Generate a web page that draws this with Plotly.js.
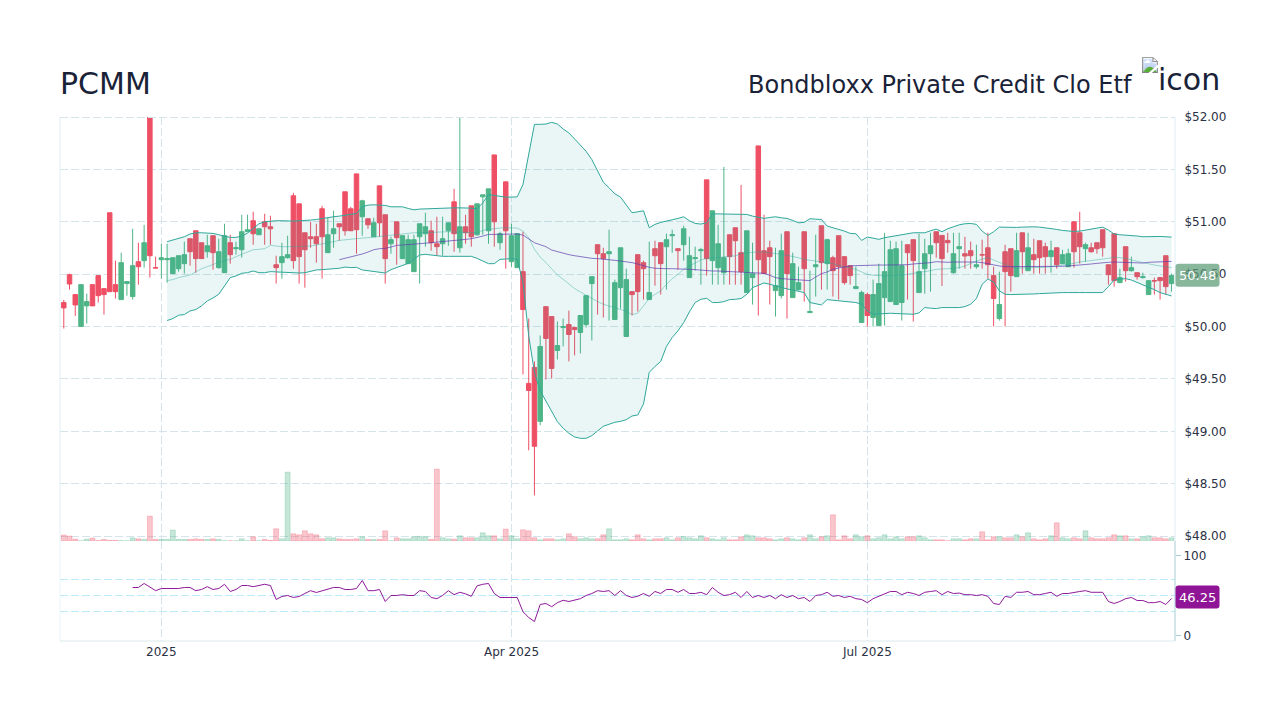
<!DOCTYPE html>
<html><head><meta charset="utf-8">
<script src="https://cdn.plot.ly/plotly-3.0.1.min.js"></script>
<style>
html,body{margin:0;padding:0;background:#fff;width:1280px;height:720px;overflow:hidden}
#c{position:absolute;left:0;top:0;width:1280px;height:720px}
#ic{position:absolute;left:1142px;top:57px;font:30px/46px "DejaVu Sans";color:#1a2238}
</style></head><body>
<div id="c"></div>
<img id="ic" src="icon-missing.png" alt="icon">
<script>
const ticker="PCMM", fundName="Bondbloxx Private Credit Clo Etf";
const xTickIdx=[17,78,140], xTickText=["2025","Apr 2025","Jul 2025"];
const priceTicks=[48,48.5,49,49.5,50,50.5,51,51.5,52];
const priceTickText=["$48.00","$48.50","$49.00","$49.50","$50.00","$50.50","$51.00","$51.50","$52.00"];
const lastPrice=50.48, lastRsi=46.25;
const open=[50.229,50.495,50.305,50.00,50.197,50.40,50.486,50.362,51.086,50.40,
50.257,50.41,50.286,50.619,50.629,52.3,50.562,50.638,50.638,50.505,
50.552,50.60,50.838,50.914,50.80,50.714,50.867,50.562,50.514,50.80,
50.743,50.733,50.905,51.01,50.876,51.0,50.952,50.59,50.61,50.657,
51.248,51.171,50.895,50.857,50.857,51.124,50.705,50.886,50.981,51.286,
51.124,51.457,51.048,51.029,50.857,51.343,51.067,50.79,51.0,50.648,
50.60,50.524,50.857,50.886,50.914,50.79,50.79,50.914,51.19,50.752,
50.952,51.152,50.876,51.238,50.914,51.638,50.80,51.381,50.619,50.562,
50.524,49.457,49.61,49.095,50.19,50.095,49.771,49.99,50.019,49.99,
49.943,50.019,50.41,50.781,50.695,50.695,50.067,50.371,49.905,50.333,
50.686,50.61,50.257,50.743,50.80,50.762,50.867,50.743,50.781,50.467,
50.648,50.724,51.4,50.629,50.562,50.514,50.876,50.943,50.705,50.324,
50.467,51.724,50.724,50.752,50.343,50.295,50.905,50.276,50.352,50.905,
50.133,50.571,50.962,50.60,50.657,50.867,50.667,50.581,50.362,50.038,
50.305,50.086,50.01,50.276,50.238,50.21,50.229,50.781,50.829,50.324,
50.552,50.695,50.905,50.87,50.822,50.514,50.743,50.695,50.724,50.571,
50.686,50.752,50.486,50.076,50.714,50.743,50.476,50.895,50.533,50.686,
50.819,50.762,50.667,50.752,50.60,50.571,51.0,50.895,50.743,50.752,
50.80,50.924,50.59,50.886,50.419,50.762,50.533,50.514,50.467,50.305,50.438,50.467,50.676,50.41];
const high=[50.254,50.505,50.305,50.40,50.314,50.40,50.486,50.362,51.086,50.629,
50.705,50.429,50.933,50.80,50.971,52.3,50.667,50.79,50.79,50.657,
50.676,50.81,50.838,50.914,50.80,50.876,50.867,50.838,50.981,50.876,
50.81,51.067,51.067,51.095,50.933,51.076,51.057,50.676,50.80,50.867,
51.276,51.171,50.895,51.0,50.981,51.152,51.038,51.105,50.981,51.286,
51.143,51.457,51.21,51.029,51.038,51.343,51.067,50.857,51.0,50.867,
50.876,50.876,50.981,51.086,51.01,51.048,51.048,50.99,51.314,52.2,
51.067,51.152,51.171,51.257,51.314,51.638,50.905,51.381,50.981,50.886,
50.905,50.076,49.667,49.914,50.19,50.095,50.048,50.076,50.152,50.0,
50.105,50.295,50.476,50.781,50.752,50.924,50.448,50.752,50.552,50.333,
50.686,50.629,50.81,50.819,50.80,50.886,50.924,50.743,50.962,50.857,
50.762,50.752,51.4,51.105,50.971,51.524,50.876,50.943,51.352,50.914,
50.80,51.724,51.067,50.819,50.752,50.886,50.905,50.705,50.571,50.905,
50.533,50.876,50.962,50.838,50.676,50.867,50.667,50.581,50.571,50.343,
50.324,50.448,50.60,50.895,50.819,50.81,50.819,50.781,50.829,50.886,
50.838,50.895,50.905,50.87,50.895,50.895,50.895,50.857,50.81,50.781,
50.829,50.895,50.571,50.524,50.781,50.743,50.895,50.895,50.895,50.838,
50.819,50.80,50.819,50.752,50.733,50.743,51.0,51.095,50.80,50.80,
50.80,50.924,50.59,50.886,50.552,50.762,50.667,50.514,50.514,50.438,50.467,50.467,50.676,50.505];
const low=[49.981,50.352,50.102,50.00,50.029,50.197,50.229,50.114,50.333,50.267,
50.257,50.295,50.257,50.40,50.562,50.467,50.559,50.457,50.419,50.505,
50.524,50.505,50.581,50.514,50.648,50.657,50.543,50.552,50.514,50.60,
50.686,50.657,50.905,50.781,50.876,50.781,50.781,50.41,50.457,50.648,
50.552,50.41,50.371,50.752,50.61,50.457,50.705,50.752,50.819,50.867,
50.914,50.695,50.867,50.933,50.857,50.857,50.41,50.695,50.59,50.648,
50.60,50.524,50.41,50.762,50.724,50.676,50.676,50.771,50.714,50.705,
50.79,50.762,50.867,50.876,50.79,50.762,50.733,50.552,50.571,50.562,
49.543,48.819,48.387,49.057,49.495,49.505,49.686,49.81,49.667,49.724,
49.743,49.99,49.867,50.114,50.086,50.057,50.067,50.171,49.905,50.105,
50.143,50.257,50.257,50.39,50.305,50.352,50.705,50.543,50.629,50.467,
50.533,50.40,50.486,50.40,50.40,50.40,50.40,50.40,50.40,50.324,
50.21,50.105,50.505,50.21,50.095,50.267,50.076,50.276,50.343,50.238,
50.133,50.286,50.352,50.352,50.286,50.257,50.40,50.40,50.362,50.038,
50.0,50.0,50.01,50.01,50.238,50.21,50.057,50.257,50.048,50.324,
50.314,50.333,50.657,50.387,50.705,50.505,50.552,50.552,50.552,50.552,
50.552,50.457,50.0,50.057,50.0,50.333,50.476,50.505,50.533,50.505,
50.505,50.505,50.514,50.552,50.60,50.571,50.562,50.60,50.619,50.705,
50.695,50.667,50.40,50.381,50.419,50.429,50.524,50.448,50.457,50.305,50.305,50.257,50.305,50.333];
const close=[50.178,50.406,50.206,50.40,50.238,50.197,50.295,50.305,50.333,50.333,
50.61,50.429,50.581,50.571,50.80,50.676,50.559,50.657,50.648,50.657,
50.676,50.686,50.714,50.648,50.648,50.771,50.705,50.714,50.867,50.686,
50.752,50.905,50.924,50.886,50.933,50.952,50.933,50.562,50.667,50.686,
50.629,50.667,50.733,50.838,50.79,50.857,50.876,50.933,50.952,50.914,
50.914,50.924,51.2,50.971,50.99,50.99,50.648,50.829,50.848,50.867,
50.829,50.829,50.981,50.952,50.80,50.762,50.838,50.99,50.886,50.952,
50.895,50.857,51.171,51.257,51.314,51.0,50.886,50.914,50.867,50.886,
50.162,49.39,48.857,49.81,49.886,49.6,49.819,50.0,49.924,49.971,
50.105,50.295,50.476,50.695,50.648,50.714,50.419,50.752,50.448,50.305,
50.333,50.552,50.324,50.676,50.60,50.829,50.876,50.724,50.933,50.676,
50.657,50.733,50.648,51.105,50.79,50.657,50.667,50.819,50.524,50.914,
50.505,50.638,50.505,50.667,50.39,50.724,50.505,50.60,50.419,50.552,
50.143,50.59,50.61,50.829,50.533,50.571,50.419,50.486,50.381,50.324,
50.105,50.305,50.41,50.524,50.733,50.743,50.581,50.705,50.629,50.524,
50.695,50.771,50.80,50.648,50.80,50.695,50.762,50.673,50.676,50.59,
50.683,50.59,50.267,50.21,50.524,50.486,50.724,50.714,50.752,50.638,
50.657,50.667,50.724,50.59,50.686,50.695,50.714,50.762,50.781,50.714,
50.743,50.752,50.495,50.438,50.467,50.533,50.562,50.476,50.476,50.438,50.435,50.438,50.381,50.486];
const volumeK=[12,10,4,0.6,4,6,1,3.4,1.4,1.4,
.8,.6,6.6,4.6,3.4,50,3.4,3.4,3.4,22,
3.4,3.4,3.4,4.6,3.4,3.4,4.6,3.4,.6,.6,
.6,4.6,.6,8.6,.6,3.4,1.4,24.6,4.6,138,
14.6,12.6,20.6,14.6,12.6,4.6,6.6,6.6,4.6,3.4,
3.4,4.6,8.6,3.4,3.4,3.4,20.6,.6,6.6,4.6,
4.6,8.6,9.4,8.6,3.4,144,6.6,4.6,4,10.6,
6.6,6.6,6.6,16.6,10.6,10.6,4.6,24,10.6,4.6,
22.6,20.6,6.6,2.6,4.6,4.6,2.6,4.6,14.6,8.6,
4.6,6.6,4.6,4.6,12.6,24.6,2.6,2.6,4.6,2.6,
12.6,4.6,2.6,4.6,4.6,6.6,2.6,6.6,9.4,6.6,
4.6,10.6,6.6,4.6,2.6,6.6,2.6,2.6,8.6,12.6,
10.6,6.6,6.6,4.6,2.6,4.6,6.6,4.6,2.6,6.6,
12.6,4.6,8.6,10.6,52.6,2.6,10.6,4.6,12.6,8.6,
10.6,4.6,6.6,12.6,4.6,8.6,4.6,8.6,8.6,10.6,
6.6,2.6,2.6,2.6,.6,4.6,4.6,2.6,4.6,4.6,
18.6,2.6,8.6,8.6,6.6,6.6,12.6,8.6,16.6,4.6,
2.6,4.6,10.6,36.6,6.6,4.6,6.6,4.6,20.6,6.6,
4.6,4.6,6.6,12.6,10.6,10.6,4.6,4.6,8.6,10.6,6.6,6.6,4.6,6.6];
const bbStart=18;
const bbUpper=[50.81,50.825,50.838,50.857,50.883,50.895,50.895,50.895,50.889,50.876,50.86,50.851,50.851,50.863,50.892,50.933,50.981,51.0,51.006,51.01,51.01,51.006,51.006,51.01,51.01,
51.016,51.022,51.032,51.041,51.048,51.054,51.06,51.067,51.079,51.143,51.159,51.162,51.162,51.156,51.143,51.143,51.143,51.127,51.114,51.121,51.124,51.124,51.127,51.127,51.13,51.133,51.133,51.133,51.13,51.124,51.181,51.26,51.25,51.238,51.235,51.235,51.238,
51.356,51.657,51.93,51.93,51.933,51.949,51.933,51.886,51.848,51.79,51.73,51.673,51.594,51.492,51.378,51.324,51.267,51.235,51.165,51.086,51.095,51.105,50.943,50.975,50.994,51.003,51.019,51.032,51.048,51.01,50.984,50.978,50.99,51.076,51.076,51.073,51.073,51.073,51.073,51.07,
51.054,51.041,51.032,51.041,51.048,51.038,51.032,51.013,50.99,50.994,51.029,51.025,51.022,50.959,50.943,50.933,50.911,50.889,50.886,50.822,50.854,50.844,50.832,50.848,50.857,50.867,50.876,50.886,50.895,50.895,50.895,50.914,50.93,
50.905,50.933,50.952,50.971,50.981,50.984,50.975,50.911,50.87,50.905,50.949,50.946,50.943,50.946,50.949,50.952,50.952,50.949,50.943,50.933,50.927,50.917,50.911,50.908,50.911,50.921,50.933,50.943,50.949,50.921,50.883,50.876,50.873,50.873,50.864,50.857,50.86,50.864,50.86,50.857,50.854];
const bbMid=[50.438,50.448,50.467,50.479,50.492,50.521,50.552,50.571,50.594,50.613,50.629,50.641,50.667,50.689,50.711,50.733,50.737,50.743,50.775,50.768,50.762,50.762,50.762,50.762,50.762,
50.768,50.778,50.787,50.8,50.81,50.822,50.829,50.832,50.838,50.844,50.848,50.854,50.86,50.87,50.876,50.883,50.889,50.892,50.895,50.895,50.898,50.902,50.905,50.905,50.905,50.902,50.898,50.898,50.895,50.895,50.917,50.927,50.937,50.94,50.943,50.943,50.94,
50.911,50.848,50.737,50.663,50.61,50.552,50.492,50.451,50.403,50.362,50.33,50.298,50.267,50.238,50.213,50.197,50.175,50.162,50.146,50.114,50.127,50.197,50.27,50.308,50.34,50.403,50.457,50.498,50.546,50.578,50.61,50.635,50.648,50.657,50.657,50.667,50.673,50.673,50.698,50.705,
50.711,50.711,50.711,50.705,50.695,50.689,50.679,50.67,50.657,50.641,50.632,50.625,50.616,50.61,50.6,50.584,50.571,50.559,50.546,50.521,50.498,50.489,50.483,50.483,50.486,50.489,50.492,50.498,50.508,50.514,50.524,50.533,50.546,
50.546,50.552,50.556,50.562,50.578,50.603,50.625,50.644,50.657,50.635,50.61,50.59,50.571,50.556,50.559,50.559,50.562,50.562,50.565,50.571,50.578,50.584,50.59,50.603,50.616,50.622,50.629,50.635,50.641,50.651,50.663,50.657,50.651,50.635,50.622,50.61,50.597,50.587,50.578,50.568,50.562];
const bbLower=[50.057,50.076,50.108,50.114,50.149,50.162,50.197,50.244,50.273,50.308,50.387,50.467,50.483,50.508,50.514,50.53,50.514,50.514,50.524,50.521,50.524,50.521,50.514,50.511,50.514,
50.527,50.54,50.543,50.546,50.552,50.556,50.568,50.562,50.565,50.54,50.533,50.527,50.521,50.511,50.543,50.565,50.584,50.603,50.641,50.683,50.689,50.683,50.673,50.67,50.67,50.67,50.67,50.67,50.67,50.651,50.625,50.6,50.6,50.641,50.644,50.648,50.641,
50.419,49.911,49.562,49.387,49.292,49.197,49.092,49.029,48.981,48.946,48.933,48.933,48.959,49.003,49.048,49.067,49.086,49.095,49.111,49.146,49.156,49.26,49.562,49.619,49.667,49.81,49.895,49.959,50.038,50.14,50.229,50.26,50.27,50.229,50.229,50.238,50.257,50.26,50.267,50.308,
50.371,50.394,50.416,50.403,50.387,50.371,50.359,50.349,50.337,50.324,50.229,50.216,50.206,50.257,50.251,50.244,50.241,50.235,50.229,50.213,50.149,50.117,50.121,50.127,50.127,50.124,50.124,50.124,50.117,50.13,50.181,50.175,50.171,
50.181,50.181,50.181,50.181,50.19,50.213,50.267,50.403,50.454,50.425,50.34,50.308,50.305,50.305,50.305,50.308,50.311,50.314,50.317,50.324,50.321,50.324,50.324,50.321,50.324,50.324,50.324,50.324,50.324,50.381,50.444,50.451,50.457,50.444,50.422,50.403,50.378,50.352,50.324,50.308,50.292];
const maStart=48;
const ma50=[50.638,50.651,50.663,50.676,50.692,50.711,50.733,50.743,50.746,50.759,50.775,50.778,50.781,50.784,50.794,50.797,50.8,50.806,50.81,50.816,50.822,50.825,50.832,50.838,50.848,50.863,50.879,50.879,50.883,50.883,50.883,50.883,
50.873,50.838,50.8,50.781,50.762,50.73,50.714,50.698,50.686,50.676,50.667,50.657,50.651,50.648,50.644,50.641,50.632,50.625,50.619,50.61,50.597,50.578,50.565,50.556,50.552,50.552,50.552,50.552,50.549,50.546,50.543,50.537,50.533,50.53,50.53,50.527,50.527,50.524,50.524,50.521,
50.517,50.511,50.508,50.489,50.467,50.457,50.454,50.451,50.444,50.441,50.438,50.473,50.505,50.521,50.546,50.559,50.571,50.578,50.581,50.584,50.587,50.587,50.587,50.587,50.587,50.587,50.587,50.59,50.597,50.6,50.603,50.61,50.619,
50.613,50.613,50.616,50.616,50.619,50.619,50.616,50.61,50.597,50.587,50.578,50.571,50.571,50.571,50.568,50.568,50.568,50.568,50.571,50.571,50.575,50.575,50.578,50.581,50.59,50.594,50.597,50.603,50.61,50.613,50.616,50.613,50.61,50.606,50.606,50.606,50.613,50.616,50.619,50.622,50.622];
const rsiStart=12;
const rsi14=[60,60,65,60,56,58.75,58.75,58.75,58.75,60,60,56,57.5,61,57.5,58.75,64,55,57.5,62.5,62.5,61,62.5,64,62.5,45,48.75,50,47.5,48.75,52.5,56,53.75,56,57.5,60,60,57.5,57.5,58.75,68.75,56,56,57.5,42.5,50,50,51,50,50,56,55,47.5,46,50,56,51,
54,52,49,62,64,65,52.5,47.5,47.5,47.5,47.5,29.6,22.5,17.5,38.75,40,36,41,44,42.5,44,46,50,52.5,56,55,56,50,56,50,47.5,49,52.5,49,55,52.5,57.5,57.5,54,57.5,52.5,52.5,54,51,60,54,50,51,54,47.5,55,47.5,50,47.5,50,46,51,47.5,50,46,47.5,42.5,50,51,54,49,50,47.5,49,
46,45,41,46,49,51,55,55,51,54,52.5,50,54,55,56,51,55,52.5,53,51,51,50,51,49,40,38.75,49,47.5,54,54,55,51,51,52.5,54,49,52.5,52.5,54,55,56,54,54,54,42.5,40,42.5,46,47.5,43.75,43.75,41,41,42.5,38.75,46.25];
const rsiLevels=[30,50,70];

const x=close.map((_,i)=>i);
const pad=(s,a)=>Array(s).fill(null).concat(a);
const GREEN='#4fb587',RED='#ef4f64',INK='#1a2238',TXT='#2b3245',GRID='#d5e4ea';
const XR=[-0.66,193.6];
const up=close.map((c,i)=>c>=open[i]);
const traces=[
 {type:'bar',x,y:volumeK,yaxis:'y3',xaxis:'x',hoverinfo:'skip',
  marker:{color:up.map(u=>u?'rgba(79,181,135,.32)':'rgba(239,79,100,.32)'),
          line:{color:up.map(u=>u?'rgba(79,181,135,.28)':'rgba(239,79,100,.28)'),width:1}}},
 {type:'candlestick',x,open,high,low,close,xaxis:'x',yaxis:'y',whiskerwidth:0,
  increasing:{line:{color:GREEN,width:1},fillcolor:GREEN},
  decreasing:{line:{color:RED,width:1},fillcolor:RED}},
 {type:'scatter',mode:'lines',x,y:pad(bbStart,bbUpper),line:{color:'#2fa89b',width:1},yaxis:'y',xaxis:'x'},
 {type:'scatter',mode:'lines',x,y:pad(bbStart,bbLower),line:{color:'#2fa89b',width:1},fill:'tonexty',fillcolor:'rgba(38,166,154,.1)',yaxis:'y',xaxis:'x'},
 {type:'scatter',mode:'lines',x,y:pad(bbStart,bbMid),line:{color:'rgba(38,166,154,.42)',width:1},yaxis:'y',xaxis:'x'},
 {type:'scatter',mode:'lines',x,y:pad(maStart,ma50),line:{color:'rgba(95,60,175,.7)',width:1},yaxis:'y',xaxis:'x'},
 {type:'scatter',mode:'lines',x,y:pad(rsiStart,rsi14),line:{color:'#8e1a9a',width:1},yaxis:'y4',xaxis:'x'}
];
const PL=60,PR=1175,PT=117,PB=641.5,SPLIT=541.5;
const px=X=>(X-PL)/(PR-PL), py=Y=>(PB-Y)/(PB-PT);
function rr(x0,y0,x1,y1,r,fill){
 const kx=r/(PR-PL),ky=r/(PB-PT),a=px(x0),b=px(x1),t=py(y0),u=py(y1);
 return {type:'path',xref:'paper',yref:'paper',layer:'above',line:{width:0},fillcolor:fill,
  path:`M${a+kx},${t} L${b-kx},${t} Q${b},${t} ${b},${t-ky} L${b},${u+ky} Q${b},${u} ${b-kx},${u} L${a+kx},${u} Q${a},${u} ${a},${u+ky} L${a},${t-ky} Q${a},${t} ${a+kx},${t} Z`};
}
const seg=(x0,y0,x1,y1,c,d)=>({type:'line',xref:'paper',yref:'paper',x0:px(x0),y0:py(y0),x1:px(x1),y1:py(y1),line:{color:c,width:1,dash:d||'solid'},layer:'above'});
const shapes=[
 seg(PL,PT,PL,SPLIT,'#e3eef3'),
 seg(PL,SPLIT,PL,PB,'#e8f2f6'),
 seg(PR,PT,PR,SPLIT,'#e0eef4'),
 seg(PR,SPLIT,PR,PB,'#a9cdd6'),
 seg(PL,PB,PR,PB,'#dceaee'),
 seg(PL,PT+0.5,PR,PT+0.5,GRID,'8px,3px'),
 ...rsiLevels.map(v=>({type:'line',xref:'x',yref:'y4',x0:XR[0],x1:XR[1],y0:v,y1:v,layer:'below',line:{color:'#bdeafb',width:1,dash:'8px,3px'}})),
 rr(1175.5,264,1219.5,287,3,'rgba(92,155,118,.72)'),
 rr(1175.5,586,1219.5,609,3,'#8f1596')
];
const ann=(X,Y,t,size,color,xa)=>({xref:'paper',yref:'paper',x:px(X),y:py(Y),text:t,showarrow:false,xanchor:xa,yanchor:'middle',font:{family:'DejaVu Sans',size,color},borderpad:0});
const layout={
 width:1280,height:720,paper_bgcolor:'#fff',plot_bgcolor:'#fff',showlegend:false,
 font:{family:'DejaVu Sans',size:12,color:TXT},
 margin:{l:PL,r:1280-PR,t:PT,b:720-PB,pad:0},
 bargap:0.15,boxgap:0.22,boxgroupgap:0,hovermode:false,dragmode:false,
 xaxis:{anchor:'y4',range:XR,rangeslider:{visible:false},tickmode:'array',tickvals:xTickIdx,ticktext:xTickText,
  showgrid:true,gridcolor:GRID,griddash:'8px,3px',gridwidth:1,zeroline:false,showline:false,ticks:'',tickfont:{size:12,color:TXT},ticklabelstandoff:2},
 yaxis:{domain:[(PB-SPLIT)/(PB-PT),1],side:'right',anchor:'x',range:[47.952,52],tickmode:'array',tickvals:priceTicks,ticktext:priceTickText,
  showgrid:true,gridcolor:GRID,griddash:'8px,3px',gridwidth:1,zeroline:false,showline:false,ticks:'outside',ticklen:6,tickcolor:'rgba(0,0,0,0)',tickfont:{size:12,color:TXT}},
 yaxis3:{domain:[(PB-SPLIT)/(PB-PT),1],overlaying:'y',anchor:'x',range:[0,849],visible:false,fixedrange:true},
 yaxis4:{domain:[0,(PB-SPLIT)/(PB-PT)],side:'right',anchor:'x',range:[-6.9,118],tickmode:'array',tickvals:[0,100],ticktext:['0','100'],
  showgrid:false,zeroline:false,showline:false,ticks:'outside',ticklen:5,tickcolor:'#a9cdd6',tickfont:{size:12,color:TXT}},
 shapes,
 annotations:[
  ann(59,83,ticker,30,INK,'left'),
  ann(1133,84.5,fundName,24,INK,'right'),
  ann(1197.5,275.5,lastPrice.toFixed(2),13,'#fff','center'),
  ann(1197.5,598,lastRsi.toFixed(2),13,'#fff','center')
 ]
};
Plotly.newPlot('c',traces,layout,{displayModeBar:false,staticPlot:true});
</script>
</body></html>
